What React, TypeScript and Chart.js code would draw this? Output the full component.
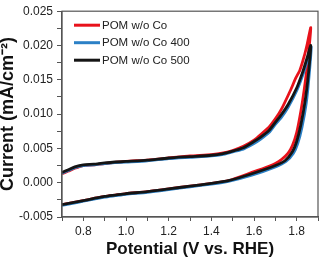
import React, { useEffect, useRef } from "react";
import { Chart, registerables } from "chart.js";

Chart.register(...registerables);

// Cyclic voltammograms: each loop runs up the lower (anodic) branch to the
// vertex potential and back along the upper branch.
const redPotential = [
  0.7, 0.75, 0.8, 0.85, 0.9, 0.95, 1.0, 1.1, 1.2, 1.3, 1.4, 1.48, 1.59, 1.67, 1.7, 1.73, 1.76, 1.78, 1.8, 1.82, 1.835, 1.85, 1.866,
  1.85, 1.835, 1.815, 1.795, 1.77, 1.73, 1.7, 1.67, 1.63, 1.6, 1.55, 1.5, 1.45, 1.4, 1.3, 1.2, 1.1, 1.0, 0.9, 0.85, 0.8, 0.76, 0.73, 0.7,
];
const redCurrent = [
  -0.0032, -0.0029, -0.0026, -0.0023, -0.002, -0.0018, -0.0016, -0.0013, -0.0009, -0.0005, -0.0001, 0.0003, 0.0015, 0.0024, 0.0028, 0.0034, 0.0043, 0.0054, 0.0073, 0.0105, 0.0135, 0.0172, 0.0226,
  0.0203, 0.0184, 0.0164, 0.0152, 0.0134, 0.0108, 0.0093, 0.0081, 0.007, 0.0062, 0.0053, 0.0047, 0.0043, 0.0041, 0.0039, 0.0036, 0.0033, 0.0031, 0.0028, 0.0026, 0.0025, 0.0021, 0.0017, 0.0013,
];

const bluePotential = [
  0.7, 0.75, 0.8, 0.85, 0.9, 0.95, 1.0, 1.1, 1.2, 1.3, 1.4, 1.48, 1.59, 1.7, 1.75, 1.785, 1.805, 1.825, 1.845, 1.858, 1.868,
  1.852, 1.832, 1.8, 1.76, 1.73, 1.7, 1.67, 1.63, 1.6, 1.55, 1.5, 1.45, 1.4, 1.3, 1.2, 1.1, 1.0, 0.9, 0.85, 0.8, 0.76, 0.73, 0.7,
];
const blueCurrent = [
  -0.0033, -0.003, -0.0027, -0.0024, -0.0021, -0.0019, -0.0017, -0.0014, -0.001, -0.0006, -0.0002, 0.0002, 0.0011, 0.0023, 0.0031, 0.0043, 0.0057, 0.0081, 0.0116, 0.0155, 0.0198,
  0.018, 0.016, 0.0134, 0.011, 0.0096, 0.0085, 0.0073, 0.0063, 0.0057, 0.0049, 0.0045, 0.0041, 0.0039, 0.0037, 0.0035, 0.0032, 0.003, 0.0028, 0.0026, 0.0025, 0.0022, 0.0018, 0.0014,
];

const blackPotential = [
  0.7, 0.75, 0.8, 0.85, 0.9, 0.95, 1.0, 1.1, 1.2, 1.3, 1.4, 1.48, 1.59, 1.7, 1.745, 1.78, 1.8, 1.82, 1.84, 1.855, 1.866,
  1.85, 1.83, 1.8, 1.76, 1.73, 1.7, 1.67, 1.63, 1.6, 1.55, 1.5, 1.45, 1.4, 1.3, 1.2, 1.1, 1.0, 0.9, 0.85, 0.8, 0.76, 0.73, 0.7,
];
const blackCurrent = [
  -0.0032, -0.0029, -0.0026, -0.0023, -0.002, -0.0018, -0.0016, -0.0013, -0.0009, -0.0005, -0.0001, 0.0003, 0.0013, 0.0025, 0.0032, 0.0045, 0.006, 0.0085, 0.012, 0.0158, 0.02,
  0.0183, 0.0163, 0.0138, 0.0114, 0.01, 0.0088, 0.0076, 0.0066, 0.006, 0.0051, 0.0046, 0.0042, 0.004, 0.0038, 0.0036, 0.0033, 0.0031, 0.0029, 0.0027, 0.0026, 0.0023, 0.0019, 0.0015,
];

const seriesNames = ["POM w/o Co", "POM w/o Co 400", "POM w/o Co 500"];
const seriesColors = ["#e8121b", "#2b80c6", "#141414"];

const xTicks = [0.7, 0.8, 0.9, 1.0, 1.1, 1.2, 1.3, 1.4, 1.5, 1.6, 1.7, 1.8, 1.9];
const xTickLabels = ["", "0.8", "", "1.0", "", "1.2", "", "1.4", "", "1.6", "", "1.8", ""];
const yTicks = [-0.005, -0.0025, 0, 0.0025, 0.005, 0.0075, 0.01, 0.0125, 0.015, 0.0175, 0.02, 0.0225, 0.025];
const yTickLabels = ["-0.005", "", "0.000", "", "0.005", "", "0.010", "", "0.015", "", "0.020", "", "0.025"];

const FONT = "'Liberation Sans', Arial, Helvetica, sans-serif";
const AXIS_COLOR = "#555";

const toPoints = (xs: number[], ys: number[]) => xs.map((x, i) => ({ x, y: ys[i] }));

// Frame around the plot area plus the in-plot legend.
const framePlugin = {
  id: "frameAndLegend",
  afterDraw(chart: any) {
    const { ctx, chartArea } = chart;
    const { left, top, right, bottom } = chartArea;
    ctx.save();
    ctx.strokeStyle = AXIS_COLOR;
    ctx.lineWidth = 1.2;
    ctx.strokeRect(left, top, right - left, bottom - top);

    const x0 = left + 12;
    const lineLen = 26;
    const y0 = top + 14;
    const rowGap = 17.5;
    ctx.font = `11.5px ${FONT}`;
    ctx.textBaseline = "middle";
    ctx.textAlign = "left";
    seriesNames.forEach((name, i) => {
      const y = y0 + i * rowGap;
      ctx.strokeStyle = seriesColors[i];
      ctx.lineWidth = 3;
      ctx.beginPath();
      ctx.moveTo(x0, y);
      ctx.lineTo(x0 + lineLen, y);
      ctx.stroke();
      ctx.fillStyle = "#222";
      ctx.fillText(name, x0 + lineLen + 2, y + 0.5);
    });
    ctx.restore();
  },
};

export default function App() {
  const canvasRef = useRef<HTMLCanvasElement | null>(null);

  useEffect(() => {
    const canvas = canvasRef.current;
    if (!canvas) return;
    const series = [
      toPoints(redPotential, redCurrent),
      toPoints(bluePotential, blueCurrent),
      toPoints(blackPotential, blackCurrent),
    ];
    const chart = new Chart(canvas, {
      type: "scatter",
      data: {
        datasets: series.map((pts, i) => ({
          label: seriesNames[i],
          data: pts,
          showLine: true,
          borderColor: seriesColors[i],
          backgroundColor: seriesColors[i],
          borderWidth: 2.8,
          pointRadius: 0,
          tension: 0.2,
          order: 2 - i,
        })),
      },
      options: {
        animation: false,
        responsive: false,
        devicePixelRatio: 1,
        layout: { padding: { top: 10, right: 6, left: 0, bottom: 0 } },
        plugins: { legend: { display: false }, tooltip: { enabled: false } },
        scales: {
          x: {
            type: "linear",
            min: 0.7,
            max: 1.9,
            afterBuildTicks: (s: any) => {
              s.ticks = xTicks.map((v) => ({ value: v }));
            },
            afterFit: (s: any) => {
              s.height = 43;
            },
            ticks: {
              autoSkip: false,
              maxRotation: 0,
              padding: 3,
              color: "#222",
              font: { family: FONT, size: 12 },
              callback: (_v: any, i: number) => xTickLabels[i],
            },
            grid: { drawOnChartArea: false, drawTicks: true, tickLength: 4, color: AXIS_COLOR },
            border: { color: AXIS_COLOR, width: 1.2 },
            title: {
              display: true,
              text: "Potential (V vs. RHE)",
              color: "#111",
              padding: 0,
              font: { family: FONT, size: 17, weight: "bold" },
            },
          },
          y: {
            type: "linear",
            min: -0.005,
            max: 0.025,
            afterBuildTicks: (s: any) => {
              s.ticks = yTicks.map((v) => ({ value: v }));
            },
            afterFit: (s: any) => {
              s.width = 62;
            },
            ticks: {
              autoSkip: false,
              padding: 4,
              color: "#222",
              font: { family: FONT, size: 12 },
              callback: (_v: any, i: number) => yTickLabels[i],
            },
            grid: { drawOnChartArea: false, drawTicks: true, tickLength: 5, color: AXIS_COLOR },
            border: { color: AXIS_COLOR, width: 1.2 },
            title: {
              display: true,
              text: "Current (mA/cm⁻²)",
              color: "#111",
              padding: 0,
              font: { family: FONT, size: 18, weight: "bold", lineHeight: 0.85 },
            },
          },
        },
      },
      plugins: [framePlugin],
    });
    return () => chart.destroy();
  }, []);

  return (
    <div style={{ position: "fixed", left: 0, top: 0, width: 324, height: 260, background: "#fff" }}>
      <canvas ref={canvasRef} width={324} height={260} style={{ display: "block" }} />
    </div>
  );
}
